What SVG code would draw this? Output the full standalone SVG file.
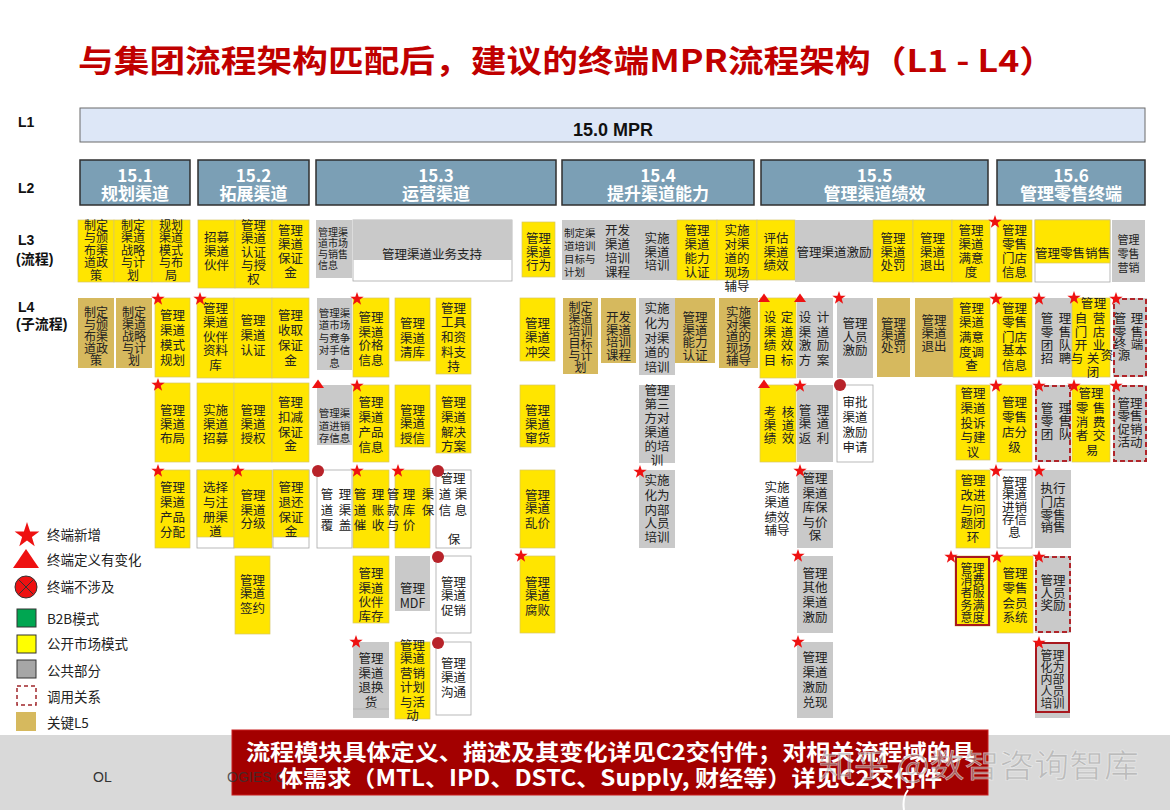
<svg xmlns="http://www.w3.org/2000/svg" xmlns:xlink="http://www.w3.org/1999/xlink" width="1170" height="810" viewBox="0 0 1170 810">
<defs>
<style>
.tx{font-family:"Noto Sans CJK SC","Noto Sans",sans-serif;font-size:12.5px;fill:#222;text-anchor:middle}
.f12{font-size:12px}
.sm{font-size:10.5px}
.st{text-anchor:start}
.y{fill:#ffe500;stroke:#d8c768;stroke-width:0.7}
.g{fill:#c9c9c9}
.t{fill:#d6b95e}
.w{fill:#fff;stroke:#a8a8a8;stroke-width:0.8}
.dr{fill:none;stroke:#b0252a;stroke-width:2;stroke-dasharray:5 3}
.sr{fill:none;stroke:#a8181e;stroke-width:2}
.l2{fill:#7b9fb5;stroke:#2f2f2f;stroke-width:1.5}
.l2t{font-family:"Noto Sans CJK SC",sans-serif;font-weight:bold;fill:#fff;text-anchor:middle;font-size:17px}
.lab{font-family:"Liberation Sans","Noto Sans CJK SC",sans-serif;font-weight:bold;font-size:14px;fill:#111}
.lg{font-family:"Noto Sans CJK SC",sans-serif;font-size:13.5px;fill:#222}
.star{fill:#ee1111}
.tri{fill:#ee1111}
.dot{fill:#b8232a}
</style>
<path id="star" class="star" d="M0,-7 L1.65,-2.27 L6.66,-2.16 L2.66,0.87 L4.11,5.66 L0,2.8 L-4.11,5.66 L-2.66,0.87 L-6.66,-2.16 L-1.65,-2.27 Z"/>
<path id="tri" class="tri" d="M0,-4.5 L6,4 L-6,4 Z"/>
<circle id="dot" class="dot" r="6"/>
</defs>
<rect width="1170" height="810" fill="#fff"/>

<text x="78" y="72" font-family="Noto Sans CJK SC, sans-serif" font-size="31" font-weight="bold" fill="#c00000" textLength="977" lengthAdjust="spacingAndGlyphs">与集团流程架构匹配后，建议的终端MPR流程架构（L1 - L4）</text>

<g id="row-labels">
<text class="lab" x="18" y="127">L1</text>
<text class="lab" x="18" y="193">L2</text>
<text class="lab" x="18" y="245">L3</text>
<text class="lab" x="16" y="264">(流程)</text>
<text class="lab" x="18" y="312">L4</text>
<text class="lab" x="16" y="329">(子流程)</text>
</g>

<g id="l1">
<rect x="80" y="108" width="1065" height="34" fill="#dde7f7" stroke="#6b6b6b" stroke-width="1"/>
<text x="613" y="136" font-family="Liberation Sans, sans-serif" font-size="18" font-weight="bold" fill="#111" text-anchor="middle">15.0 MPR</text>
</g>

<g id="l2-15-1"><rect class="l2" x="80" y="160" width="110" height="45"/><text class="l2t" x="135" y="182">15.1</text><text class="l2t" x="135" y="200">规划渠道</text></g>
<g id="l2-15-2"><rect class="l2" x="198" y="160" width="111" height="45"/><text class="l2t" x="253.5" y="182">15.2</text><text class="l2t" x="253.5" y="200">拓展渠道</text></g>
<g id="l2-15-3"><rect class="l2" x="316" y="160" width="240" height="45"/><text class="l2t" x="436" y="182">15.3</text><text class="l2t" x="436" y="200">运营渠道</text></g>
<g id="l2-15-4"><rect class="l2" x="562" y="160" width="192" height="45"/><text class="l2t" x="658" y="182">15.4</text><text class="l2t" x="658" y="200">提升渠道能力</text></g>
<g id="l2-15-5"><rect class="l2" x="761" y="160" width="227" height="45"/><text class="l2t" x="874.5" y="182">15.5</text><text class="l2t" x="874.5" y="200">管理渠道绩效</text></g>
<g id="l2-15-6"><rect class="l2" x="997" y="160" width="148" height="45"/><text class="l2t" x="1071" y="182">15.6</text><text class="l2t" x="1071" y="200">管理零售终端</text></g>

<!-- L3 -->
<g id="l3-311"><rect class="y" x="78" y="220" width="36" height="62"/><text class="tx f12"><tspan x="96" y="229.5">制定</tspan><tspan x="96" y="242">与颁</tspan><tspan x="96" y="254.5">布渠</tspan><tspan x="96" y="267">道政</tspan><tspan x="96" y="279.5">策</tspan></text></g>
<g id="l3-312"><rect class="y" x="114" y="220" width="38" height="62"/><text class="tx f12"><tspan x="133" y="229.5">制定</tspan><tspan x="133" y="242">渠道</tspan><tspan x="133" y="254.5">战略</tspan><tspan x="133" y="267">与计</tspan><tspan x="133" y="279.5">划</tspan></text></g>
<g id="l3-313"><rect class="y" x="152" y="220" width="38" height="62"/><text class="tx f12"><tspan x="171" y="229.5">规划</tspan><tspan x="171" y="242">渠道</tspan><tspan x="171" y="254.5">模式</tspan><tspan x="171" y="267">与布</tspan><tspan x="171" y="279.5">局</tspan></text></g>
<g id="l3-321"><rect class="y" x="198" y="220" width="37" height="68"/><text class="tx"><tspan x="216.5" y="241.5">招募</tspan><tspan x="216.5" y="255.5">渠道</tspan><tspan x="216.5" y="269.5">伙伴</tspan></text></g>
<g id="l3-322"><rect class="y" x="235" y="220" width="37" height="68"/><text class="tx"><tspan x="253.5" y="229.5">管理</tspan><tspan x="253.5" y="243">渠道</tspan><tspan x="253.5" y="256.5">认证</tspan><tspan x="253.5" y="270">与授</tspan><tspan x="253.5" y="283.5">权</tspan></text></g>
<g id="l3-323"><rect class="y" x="272" y="220" width="37" height="68"/><text class="tx"><tspan x="290.5" y="234.5">管理</tspan><tspan x="290.5" y="248.5">渠道</tspan><tspan x="290.5" y="262.5">保证</tspan><tspan x="290.5" y="276.5">金</tspan></text></g>
<g id="l3-331"><rect class="g" x="316" y="220" width="36" height="58"/><text class="tx st" style="font-size:10px"><tspan x="318" y="236">管理渠</tspan><tspan x="318" y="247">道市场</tspan><tspan x="318" y="258">与销售</tspan><tspan x="318" y="269">信息</tspan></text></g>
<g id="l3-332"><rect class="w" x="353" y="220" width="159" height="61"/><rect class="g" x="353" y="220" width="159" height="40"/><text class="tx" x="432" y="259">管理渠道业务支持</text></g>
<g id="l3-333"><rect class="y" x="522" y="222" width="33" height="55"/><text class="tx"><tspan x="538.5" y="242.5">管理</tspan><tspan x="538.5" y="256.5">渠道</tspan><tspan x="538.5" y="269.5">行为</tspan></text></g>
<g id="l3-341"><rect class="g" x="562" y="220" width="36" height="60"/><text class="tx st sm"><tspan x="564" y="236.5">制定渠</tspan><tspan x="564" y="249.5">道培训</tspan><tspan x="564" y="262.5">目标与</tspan><tspan x="564" y="276">计划</tspan></text></g>
<g id="l3-342"><rect class="g" x="598" y="220" width="39" height="60"/><text class="tx"><tspan x="617.5" y="234.5">开发</tspan><tspan x="617.5" y="248.5">渠道</tspan><tspan x="617.5" y="262.5">培训</tspan><tspan x="617.5" y="276.5">课程</tspan></text></g>
<g id="l3-343"><rect class="g" x="637" y="220" width="40" height="60"/><text class="tx"><tspan x="657" y="242.5">实施</tspan><tspan x="657" y="256.5">渠道</tspan><tspan x="657" y="269.5">培训</tspan></text></g>
<g id="l3-344"><rect class="y" x="677" y="220" width="40" height="60"/><text class="tx"><tspan x="697" y="234.5">管理</tspan><tspan x="697" y="248.5">渠道</tspan><tspan x="697" y="262.5">能力</tspan><tspan x="697" y="276.5">认证</tspan></text></g>
<g id="l3-345"><rect class="y" x="717" y="220" width="40" height="60"/><text class="tx"><tspan x="737" y="234.5">实施</tspan><tspan x="737" y="248.5">对渠</tspan><tspan x="737" y="262.5">道的</tspan><tspan x="737" y="276.5">现场</tspan><tspan x="737" y="290.5">辅导</tspan></text></g>
<g id="l3-346"><rect class="y" x="757" y="220" width="38" height="60"/><text class="tx"><tspan x="776" y="242.5">评估</tspan><tspan x="776" y="256.5">渠道</tspan><tspan x="776" y="269.5">绩效</tspan></text></g>
<g id="l3-351"><rect class="g" x="795" y="220" width="78" height="62"/><text class="tx" x="834" y="256.5">管理渠道激励</text></g>
<g id="l3-352"><rect class="y" x="873" y="220" width="40" height="62"/><text class="tx"><tspan x="893" y="242.5">管理</tspan><tspan x="893" y="256.5">渠道</tspan><tspan x="893" y="269.5">处罚</tspan></text></g>
<g id="l3-353"><rect class="y" x="913" y="220" width="39" height="62"/><text class="tx"><tspan x="932.5" y="242.5">管理</tspan><tspan x="932.5" y="256.5">渠道</tspan><tspan x="932.5" y="269.5">退出</tspan></text></g>
<g id="l3-354"><rect class="y" x="952" y="220" width="38" height="62"/><text class="tx"><tspan x="971" y="234.5">管理</tspan><tspan x="971" y="248.5">渠道</tspan><tspan x="971" y="262.5">满意</tspan><tspan x="971" y="276.5">度</tspan></text></g>
<g id="l3-361"><rect class="y" x="997" y="220" width="35" height="62"/><text class="tx"><tspan x="1014.5" y="234.5">管理</tspan><tspan x="1014.5" y="248.5">零售</tspan><tspan x="1014.5" y="262.5">门店</tspan><tspan x="1014.5" y="277">信息</tspan></text><use href="#star" x="995" y="222"/></g>
<g id="l3-362"><rect class="w" x="1035" y="220" width="75" height="62"/><rect class="y" x="1035" y="220" width="75" height="43"/><text class="tx" x="1072.5" y="257.5">管理零售销售</text></g>
<g id="l3-363"><rect class="g" x="1112" y="220" width="33" height="62"/><text class="tx" style="font-size:11px"><tspan x="1128.5" y="243.5">管理</tspan><tspan x="1128.5" y="257.5">零售</tspan><tspan x="1128.5" y="271.5">营销</tspan></text></g>

<!-- L4 15.1 / 15.2 -->
<g id="l4-411"><rect class="t" x="78" y="298" width="36" height="70"/><text class="tx f12"><tspan x="96" y="316.5">制定</tspan><tspan x="96" y="328.5">与颁</tspan><tspan x="96" y="340.5">布渠</tspan><tspan x="96" y="352.5">道政</tspan><tspan x="96" y="364.5">策</tspan></text></g>
<g id="l4-412"><rect class="t" x="116" y="298" width="36" height="70"/><text class="tx f12"><tspan x="134" y="316.5">制定</tspan><tspan x="134" y="328.5">渠道</tspan><tspan x="134" y="340.5">战略</tspan><tspan x="134" y="352.5">与计</tspan><tspan x="134" y="364.5">划</tspan></text></g>
<g id="l4-413"><rect class="y" x="155" y="298" width="35" height="79"/><text class="tx"><tspan x="172.5" y="319.5">管理</tspan><tspan x="172.5" y="334.5">渠道</tspan><tspan x="172.5" y="349.5">模式</tspan><tspan x="172.5" y="364.5">规划</tspan></text><use href="#star" x="158" y="299"/></g>
<g id="l4-414"><rect class="y" x="197" y="298" width="37" height="80"/><text class="tx"><tspan x="215.5" y="312.5">管理</tspan><tspan x="215.5" y="326.5">渠道</tspan><tspan x="215.5" y="341.5">伙伴</tspan><tspan x="215.5" y="355">资料</tspan><tspan x="215.5" y="369.5">库</tspan></text><use href="#star" x="200" y="299"/></g>
<g id="l4-415"><rect class="y" x="234" y="298" width="38" height="80"/><text class="tx"><tspan x="253" y="324.5">管理</tspan><tspan x="253" y="340">渠道</tspan><tspan x="253" y="355">认证</tspan></text></g>
<g id="l4-416"><rect class="y" x="272" y="298" width="37" height="80"/><text class="tx"><tspan x="290.5" y="319.5">管理</tspan><tspan x="290.5" y="334.5">收取</tspan><tspan x="290.5" y="349.5">保证</tspan><tspan x="290.5" y="364.5">金</tspan></text></g>
<g id="l4-417"><rect class="y" x="155" y="383" width="35" height="79"/><text class="tx"><tspan x="172.5" y="414.5">管理</tspan><tspan x="172.5" y="428.5">渠道</tspan><tspan x="172.5" y="442.5">布局</tspan></text><use href="#star" x="158" y="385"/></g>
<g id="l4-418"><rect class="y" x="197" y="383" width="37" height="79"/><text class="tx"><tspan x="215.5" y="414.5">实施</tspan><tspan x="215.5" y="428.5">渠道</tspan><tspan x="215.5" y="442.5">招募</tspan></text></g>
<g id="l4-419"><rect class="y" x="234" y="383" width="38" height="79"/><text class="tx"><tspan x="253" y="414.5">管理</tspan><tspan x="253" y="428.5">渠道</tspan><tspan x="253" y="442.5">授权</tspan></text></g>
<g id="l4-420"><rect class="y" x="272" y="383" width="37" height="79"/><text class="tx"><tspan x="290.5" y="406.5">管理</tspan><tspan x="290.5" y="421.5">扣减</tspan><tspan x="290.5" y="436.5">保证</tspan><tspan x="290.5" y="449.5">金</tspan></text></g>
<g id="l4-421"><rect class="y" x="155" y="470" width="35" height="78"/><text class="tx"><tspan x="172.5" y="491.5">管理</tspan><tspan x="172.5" y="506.5">渠道</tspan><tspan x="172.5" y="521.5">产品</tspan><tspan x="172.5" y="536.5">分配</tspan></text><use href="#star" x="158" y="471"/></g>
<g id="l4-422"><rect class="w" x="197" y="470" width="37" height="78"/><rect class="y" x="197" y="470" width="37" height="67"/><text class="tx"><tspan x="215.5" y="491.5">选择</tspan><tspan x="215.5" y="506.5">与注</tspan><tspan x="215.5" y="521.5">册渠</tspan><tspan x="215.5" y="536">道</tspan></text></g>
<g id="l4-423"><rect class="y" x="234" y="470" width="38" height="78"/><text class="tx"><tspan x="253" y="499.5">管理</tspan><tspan x="253" y="514.5">渠道</tspan><tspan x="253" y="527.5">分级</tspan></text><use href="#star" x="238" y="471"/></g>
<g id="l4-424"><rect class="w" x="273" y="470" width="36" height="78"/><rect class="y" x="273" y="470" width="36" height="67"/><text class="tx"><tspan x="291" y="491.5">管理</tspan><tspan x="291" y="506.5">退还</tspan><tspan x="291" y="521.5">保证</tspan><tspan x="291" y="536">金</tspan></text></g>
<g id="l4-425"><rect class="y" x="235" y="556" width="35" height="78"/><text class="tx"><tspan x="252.5" y="584.5">管理</tspan><tspan x="252.5" y="598">渠道</tspan><tspan x="252.5" y="613">签约</tspan></text></g>

<!-- L4 15.3 -->
<g id="l4-431"><rect class="g" x="317" y="298" width="35" height="72"/><text class="tx sm"><tspan x="334.5" y="316.5">管理渠</tspan><tspan x="334.5" y="329">道市场</tspan><tspan x="334.5" y="341.5">与竞争</tspan><tspan x="334.5" y="354">对手信</tspan><tspan x="334.5" y="366.5">息</tspan></text></g>
<g id="l4-432"><rect class="y" x="353" y="298" width="36" height="79"/><text class="tx"><tspan x="371" y="321.5">管理</tspan><tspan x="371" y="336.5">渠道</tspan><tspan x="371" y="349.5">价格</tspan><tspan x="371" y="364.5">信息</tspan></text><use href="#star" x="357" y="299"/></g>
<g id="l4-433"><rect class="y" x="395" y="298" width="35" height="63"/><text class="tx"><tspan x="412.5" y="327.5">管理</tspan><tspan x="412.5" y="342.5">渠道</tspan><tspan x="412.5" y="357">清库</tspan></text></g>
<g id="l4-434"><rect class="y" x="436" y="298" width="35" height="76"/><text class="tx"><tspan x="453.5" y="312.5">管理</tspan><tspan x="453.5" y="326.5">工具</tspan><tspan x="453.5" y="341.5">和资</tspan><tspan x="453.5" y="356.5">料支</tspan><tspan x="453.5" y="371">持</tspan></text></g>
<g id="l4-435"><rect class="g" x="317" y="385" width="35" height="60"/><text class="tx sm"><tspan x="334.5" y="417">管理渠</tspan><tspan x="334.5" y="429.5">道进销</tspan><tspan x="334.5" y="442">存信息</tspan></text><use href="#tri" x="318" y="384"/></g>
<g id="l4-436"><rect class="y" x="353" y="385" width="36" height="77"/><text class="tx"><tspan x="371" y="406.5">管理</tspan><tspan x="371" y="421.5">渠道</tspan><tspan x="371" y="436.5">产品</tspan><tspan x="371" y="451.5">信息</tspan></text><use href="#star" x="357" y="386"/></g>
<g id="l4-437"><rect class="y" x="395" y="385" width="35" height="62"/><text class="tx"><tspan x="412.5" y="414.5">管理</tspan><tspan x="412.5" y="428">渠道</tspan><tspan x="412.5" y="442.5">授信</tspan></text></g>
<g id="l4-438"><rect class="y" x="436" y="385" width="35" height="68"/><text class="tx"><tspan x="453.5" y="406.5">管理</tspan><tspan x="453.5" y="421.5">渠道</tspan><tspan x="453.5" y="436.5">解决</tspan><tspan x="453.5" y="451">方案</tspan></text></g>
<g id="l4-439"><rect class="w" x="317" y="470" width="35" height="78"/><text class="tx" x="327 345" y="498.5">管理</text><text class="tx" x="327 345" y="514.5">道渠</text><text class="tx" x="327 345" y="529.5">覆盖</text><use href="#dot" x="318" y="471"/></g>
<g id="l4-440"><rect class="y" x="353" y="470" width="36" height="78"/><text class="tx" x="360 378" y="498.5">管理</text><text class="tx" x="360 378" y="514.5">道账</text><text class="tx" x="360 378" y="529.5">催收</text><use href="#star" x="357" y="471"/></g>
<g id="l4-441"><rect class="y" x="395" y="470" width="35" height="78"/><text class="tx" x="393 409 428" y="498.5">管理渠</text><text class="tx" x="393 409 428" y="514.5">款库保</text><text class="tx" x="393 409" y="529.5">与价</text><use href="#star" x="398" y="471"/></g>
<g id="l4-442"><rect class="w" x="436" y="470" width="35" height="78"/><text class="tx" x="453" y="482.5">管理</text><text class="tx" x="445 461" y="498.5">道渠</text><text class="tx" x="445 461" y="514.5">信息</text><text class="tx" x="454" y="544">保</text><use href="#dot" x="438" y="471"/></g>
<g id="l4-443"><rect class="y" x="353" y="556" width="36" height="67"/><text class="tx"><tspan x="371" y="577.5">管理</tspan><tspan x="371" y="592.5">渠道</tspan><tspan x="371" y="606.5">伙伴</tspan><tspan x="371" y="621">库存</tspan></text></g>
<g id="l4-444"><rect class="g" x="395" y="556" width="35" height="55"/><text class="tx"><tspan x="412.5" y="592.5">管理</tspan><tspan x="412.5" y="607.5">MDF</tspan></text></g>
<g id="l4-445"><rect class="w" x="436" y="556" width="35" height="77"/><text class="tx"><tspan x="453.5" y="586.5">管理</tspan><tspan x="453.5" y="599.5">渠道</tspan><tspan x="453.5" y="614.5">促销</tspan></text><use href="#dot" x="438" y="557"/></g>
<g id="l4-446"><rect class="g" x="353" y="642" width="36" height="76"/><line x1="353" y1="709" x2="389" y2="709" stroke="#b5b5b5" stroke-width="1"/><text class="tx"><tspan x="371" y="662.5">管理</tspan><tspan x="371" y="677.5">渠道</tspan><tspan x="371" y="691.5">退换</tspan><tspan x="371" y="707">货</tspan></text><use href="#star" x="356" y="642"/></g>
<g id="l4-447"><rect class="y" x="395" y="642" width="35" height="77"/><text class="tx"><tspan x="412.5" y="649.5">管理</tspan><tspan x="412.5" y="662.5">渠道</tspan><tspan x="412.5" y="677.5">营销</tspan><tspan x="412.5" y="691.5">计划</tspan><tspan x="412.5" y="706.5">与活</tspan><tspan x="412.5" y="719.5">动</tspan></text></g>
<g id="l4-448"><rect class="w" x="436" y="642" width="35" height="73"/><text class="tx"><tspan x="453.5" y="667.5">管理</tspan><tspan x="453.5" y="681.5">渠道</tspan><tspan x="453.5" y="696.5">沟通</tspan></text><use href="#dot" x="438" y="643"/></g>
<g id="l4-451"><rect class="y" x="520" y="298" width="35" height="63"/><text class="tx"><tspan x="537.5" y="327.5">管理</tspan><tspan x="537.5" y="341.5">渠道</tspan><tspan x="537.5" y="356.5">冲突</tspan></text></g>
<g id="l4-452"><rect class="y" x="520" y="385" width="35" height="62"/><text class="tx"><tspan x="537.5" y="414.5">管理</tspan><tspan x="537.5" y="429">渠道</tspan><tspan x="537.5" y="442.5">窜货</tspan></text></g>
<g id="l4-453"><rect class="y" x="520" y="470" width="35" height="78"/><text class="tx"><tspan x="537.5" y="499.5">管理</tspan><tspan x="537.5" y="512.5">渠道</tspan><tspan x="537.5" y="527.5">乱价</tspan></text></g>
<g id="l4-454"><rect class="y" x="520" y="556" width="35" height="77"/><text class="tx"><tspan x="537.5" y="586.5">管理</tspan><tspan x="537.5" y="599.5">渠道</tspan><tspan x="537.5" y="614.5">腐败</tspan></text><use href="#star" x="521" y="556"/></g>

<!-- L4 15.4 -->
<g id="l4-461"><rect class="t" x="563" y="298" width="35" height="76"/><text class="tx f12"><tspan x="580.5" y="311.5">制定</tspan><tspan x="580.5" y="323.5">渠道</tspan><tspan x="580.5" y="335.5">培训</tspan><tspan x="580.5" y="347.5">目标</tspan><tspan x="580.5" y="359.5">与计</tspan><tspan x="580.5" y="371.5">划</tspan></text></g>
<g id="l4-462"><rect class="t" x="601" y="298" width="35" height="65"/><text class="tx"><tspan x="618.5" y="322">开发</tspan><tspan x="618.5" y="334.5">渠道</tspan><tspan x="618.5" y="347">培训</tspan><tspan x="618.5" y="359.5">课程</tspan></text></g>
<g id="l4-463"><rect class="g" x="639" y="298" width="36" height="77"/><text class="tx"><tspan x="657" y="312.5">实施</tspan><tspan x="657" y="327.5">化为</tspan><tspan x="657" y="342.5">对渠</tspan><tspan x="657" y="356.5">道的</tspan><tspan x="657" y="371.5">培训</tspan></text></g>
<g id="l4-464"><rect class="t" x="675" y="298" width="40" height="65"/><text class="tx"><tspan x="695" y="322">管理</tspan><tspan x="695" y="334.5">渠道</tspan><tspan x="695" y="347">能力</tspan><tspan x="695" y="359.5">认证</tspan></text></g>
<g id="l4-465"><rect class="t" x="719" y="298" width="39" height="70"/><text class="tx"><tspan x="738.5" y="316.5">实施</tspan><tspan x="738.5" y="328.5">对渠</tspan><tspan x="738.5" y="340.5">道的</tspan><tspan x="738.5" y="352.5">现场</tspan><tspan x="738.5" y="364.5">辅导</tspan></text></g>
<g id="l4-466"><rect class="y" x="760" y="298" width="36" height="80"/><text class="tx" x="770 787" y="321.5">设定</text><text class="tx" x="770 787" y="336.5">渠道</text><text class="tx" x="770 787" y="349.5">绩效</text><text class="tx" x="770 787" y="364.5">目标</text><use href="#tri" x="764" y="298"/></g>
<g id="l4-467"><rect class="g" x="797" y="298" width="36" height="80"/><text class="tx" x="805 823" y="321.5">设计</text><text class="tx" x="805 823" y="336.5">渠道</text><text class="tx" x="805 823" y="349.5">激励</text><text class="tx" x="805 823" y="364.5">方案</text><use href="#tri" x="800" y="298"/></g>
<g id="l4-468"><rect class="g" x="837" y="298" width="36" height="80"/><text class="tx"><tspan x="855" y="327.5">管理</tspan><tspan x="855" y="341.5">人员</tspan><tspan x="855" y="354.5">激励</tspan></text><use href="#star" x="839" y="298"/></g>
<g id="l4-469"><rect class="g" x="639" y="385" width="36" height="78"/><text class="tx"><tspan x="657" y="394.5">管理</tspan><tspan x="657" y="408.5">第三</tspan><tspan x="657" y="422.5">方对</tspan><tspan x="657" y="436.5">渠道</tspan><tspan x="657" y="450.5">的培</tspan><tspan x="657" y="464.5">训</tspan></text></g>
<g id="l4-470"><rect class="y" x="760" y="385" width="36" height="77"/><text class="tx" x="770 788" y="416.5">考核</text><text class="tx" x="770 788" y="429.5">渠道</text><text class="tx" x="770 788" y="442.5">绩效</text><use href="#tri" x="764" y="384"/></g>
<g id="l4-471"><rect class="g" x="797" y="385" width="36" height="77"/><text class="tx" x="805 823" y="414.5">管理</text><text class="tx" x="805 823" y="427.5">渠道</text><text class="tx" x="805 823" y="442.5">返利</text><use href="#star" x="800" y="386"/></g>
<g id="l4-472"><rect class="w" x="837" y="385" width="36" height="77"/><text class="tx"><tspan x="855" y="406.5">审批</tspan><tspan x="855" y="421.5">渠道</tspan><tspan x="855" y="436.5">激励</tspan><tspan x="855" y="451.5">申请</tspan></text><use href="#dot" x="840" y="385"/></g>
<g id="l4-473"><rect class="g" x="639" y="470" width="36" height="78"/><text class="tx"><tspan x="657" y="484.5">实施</tspan><tspan x="657" y="499.5">化为</tspan><tspan x="657" y="514.5">内部</tspan><tspan x="657" y="527.5">人员</tspan><tspan x="657" y="541.5">培训</tspan></text><use href="#star" x="640" y="472"/></g>
<g id="l4-474"><text class="tx"><tspan x="777" y="491.5">实施</tspan><tspan x="777" y="506.5">渠道</tspan><tspan x="777" y="521.5">绩效</tspan><tspan x="777" y="534.5">辅导</tspan></text></g>
<g id="l4-475"><rect class="g" x="797" y="470" width="36" height="78"/><text class="tx"><tspan x="815" y="482.5">管理</tspan><tspan x="815" y="497.5">渠道</tspan><tspan x="815" y="511.5">库保</tspan><tspan x="815" y="526.5">与价</tspan><tspan x="815" y="539.5">保</tspan></text><use href="#star" x="800" y="471"/></g>
<g id="l4-476"><rect class="g" x="797" y="556" width="36" height="77"/><text class="tx"><tspan x="815" y="577.5">管理</tspan><tspan x="815" y="591.5">其他</tspan><tspan x="815" y="606.5">渠道</tspan><tspan x="815" y="621.5">激励</tspan></text><use href="#star" x="798" y="556"/></g>
<g id="l4-477"><rect class="g" x="797" y="642" width="36" height="76"/><text class="tx"><tspan x="815" y="661.5">管理</tspan><tspan x="815" y="676.5">渠道</tspan><tspan x="815" y="691.5">激励</tspan><tspan x="815" y="706.5">兑现</tspan></text><use href="#star" x="798" y="642"/></g>

<!-- L4 15.5 -->
<g id="l4-481"><rect class="t" x="877" y="298" width="33" height="79"/><text class="tx"><tspan x="893.5" y="327.5">管理</tspan><tspan x="893.5" y="339.5">渠道</tspan><tspan x="893.5" y="351.5">处罚</tspan></text></g>
<g id="l4-482"><rect class="t" x="915" y="298" width="38" height="79"/><text class="tx"><tspan x="934" y="325">管理</tspan><tspan x="934" y="338">渠道</tspan><tspan x="934" y="351">退出</tspan></text></g>
<g id="l4-483"><rect class="y" x="953" y="298" width="37" height="79"/><text class="tx"><tspan x="971.5" y="312.5">管理</tspan><tspan x="971.5" y="326.5">渠道</tspan><tspan x="971.5" y="341.5">满意</tspan><tspan x="971.5" y="356.5">度调</tspan><tspan x="971.5" y="369.5">查</tspan></text></g>
<g id="l4-484"><rect class="y" x="956" y="385" width="34" height="75"/><text class="tx"><tspan x="973" y="397.5">管理</tspan><tspan x="973" y="412.5">渠道</tspan><tspan x="973" y="427.5">投诉</tspan><tspan x="973" y="441.5">与建</tspan><tspan x="973" y="456.5">议</tspan></text></g>
<g id="l4-485"><rect class="y" x="956" y="470" width="34" height="78"/><text class="tx"><tspan x="973" y="484.5">管理</tspan><tspan x="973" y="499.5">改进</tspan><tspan x="973" y="514.5">与问</tspan><tspan x="973" y="527.5">题闭</tspan><tspan x="973" y="541.5">环</tspan></text></g>
<g id="l4-486"><rect class="y" x="955" y="556" width="35" height="70"/><rect class="sr" x="956" y="557" width="33" height="68"/><text class="tx f12"><tspan x="972.5" y="572.5">管理</tspan><tspan x="972.5" y="584.5">消费</tspan><tspan x="972.5" y="597">者服</tspan><tspan x="972.5" y="609.5">务满</tspan><tspan x="972.5" y="621.5">意度</tspan></text><use href="#star" x="951" y="557"/></g>

<!-- L4 15.6 -->
<g id="l4-491"><rect class="y" x="997" y="298" width="35" height="79"/><text class="tx"><tspan x="1014.5" y="312.5">管理</tspan><tspan x="1014.5" y="326.5">零售</tspan><tspan x="1014.5" y="341.5">门店</tspan><tspan x="1014.5" y="354.5">基本</tspan><tspan x="1014.5" y="369.5">信息</tspan></text><use href="#star" x="996" y="299"/></g>
<g id="l4-492"><rect class="g" x="1035" y="298" width="37" height="79"/><text class="tx" x="1047 1065" y="322.5">管理</text><text class="tx" x="1047 1065" y="336.5">零售</text><text class="tx" x="1047 1065" y="349.5">团队</text><text class="tx" x="1047 1065" y="362.5">招聘</text><use href="#star" x="1039" y="299"/></g>
<g id="l4-493"><rect class="y" x="1072" y="298" width="38" height="79"/><text class="tx" x="1087 1100" y="307.5">管理</text><text class="tx" x="1081 1099" y="322.5">自营</text><text class="tx" x="1081 1099" y="336.5">门店</text><text class="tx" x="1081 1099" y="349.5">开业</text><text class="tx" x="1077 1093" y="362.5">与关</text><text class="tx" x="1093" y="376.5">闭</text><use href="#star" x="1074" y="298"/></g>
<g id="l4-494"><rect class="g" x="1113" y="298" width="34" height="79"/><rect class="dr" x="1114" y="299" width="32" height="77"/><text class="tx" x="1120 1137" y="322.5">管理</text><text class="tx" x="1120 1137" y="336.5">零售</text><text class="tx" x="1120 1137" y="348.5">终端</text><text class="tx" x="1107 1124" y="359.5">资源</text><use href="#star" x="1116" y="299"/></g>
<g id="l4-495"><rect class="y" x="997" y="385" width="35" height="77"/><text class="tx"><tspan x="1014.5" y="406.5">管理</tspan><tspan x="1014.5" y="421.5">零售</tspan><tspan x="1014.5" y="436.5">店分</tspan><tspan x="1014.5" y="451.5">级</tspan></text><use href="#star" x="996" y="386"/></g>
<g id="l4-496"><rect class="g" x="1035" y="385" width="36" height="77"/><rect class="dr" x="1036" y="386" width="34" height="75"/><text class="tx" x="1047 1065" y="412.5">管理</text><text class="tx" x="1047 1065" y="425.5">零售</text><text class="tx" x="1047 1065" y="438.5">团队</text><use href="#star" x="1039" y="386"/></g>
<g id="l4-497"><rect class="y" x="1072" y="385" width="38" height="77"/><text class="tx" x="1091" y="397.5">管理</text><text class="tx" x="1082 1099" y="412.5">零售</text><text class="tx" x="1082 1099" y="426.5">消费</text><text class="tx" x="1082 1099" y="439.5">者交</text><text class="tx" x="1092" y="454.5">易</text><use href="#star" x="1074" y="386"/></g>
<g id="l4-498"><rect class="g" x="1113" y="385" width="34" height="77"/><rect class="dr" x="1114" y="386" width="32" height="75"/><text class="tx"><tspan x="1130" y="407.5">管理</tspan><tspan x="1130" y="420.5">零售</tspan><tspan x="1130" y="433.5">促销</tspan><tspan x="1130" y="446.5">活动</tspan></text><use href="#star" x="1116" y="386"/></g>
<g id="l4-499"><rect class="w" x="997" y="470" width="35" height="78"/><text class="tx"><tspan x="1014.5" y="486.5">管理</tspan><tspan x="1014.5" y="499">渠道</tspan><tspan x="1014.5" y="511.5">进销</tspan><tspan x="1014.5" y="524">存信</tspan><tspan x="1014.5" y="536.5">息</tspan></text><use href="#star" x="996" y="471"/></g>
<g id="l4-500"><rect class="g" x="1035" y="470" width="36" height="78"/><text class="tx"><tspan x="1053" y="492.5">执行</tspan><tspan x="1053" y="506.5">门店</tspan><tspan x="1053" y="519.5">零售</tspan><tspan x="1053" y="531.5">销售</tspan></text><use href="#star" x="1039" y="471"/></g>
<g id="l4-501"><rect class="y" x="997" y="556" width="36" height="77"/><text class="tx"><tspan x="1015" y="577.5">管理</tspan><tspan x="1015" y="592.5">零售</tspan><tspan x="1015" y="607.5">会员</tspan><tspan x="1015" y="621.5">系统</tspan></text><use href="#star" x="997" y="557"/></g>
<g id="l4-502"><rect class="g" x="1035" y="556" width="36" height="77"/><rect class="dr" x="1036" y="557" width="34" height="75"/><text class="tx"><tspan x="1053" y="584.5">管理</tspan><tspan x="1053" y="597.5">人员</tspan><tspan x="1053" y="609.5">奖励</tspan></text><use href="#star" x="1039" y="557"/></g>
<g id="l4-503"><rect class="g" x="1035" y="642" width="35" height="76"/><rect class="sr" x="1036" y="643" width="33" height="69"/><text class="tx f12"><tspan x="1052.5" y="659.5">管理</tspan><tspan x="1052.5" y="671.5">化为</tspan><tspan x="1052.5" y="683.5">内部</tspan><tspan x="1052.5" y="695.5">人员</tspan><tspan x="1052.5" y="707.5">培训</tspan></text><use href="#star" x="1039" y="643"/></g>

<g id="connectors"></g>

<g id="legend">
<path d="M27,522 L30.1,531.4 L39.4,531.4 L31.9,537 L34.7,546.3 L27,540.5 L19.3,546.3 L22.1,537 L14.6,531.4 L23.9,531.4 Z" fill="#ee1111"/>
<text class="lg" x="47" y="540">终端新增</text>
<path d="M26,549 L39,568 L13,568 Z" fill="#ee1111"/>
<text class="lg" x="47" y="565">终端定义有变化</text>
<circle cx="26" cy="587" r="11" fill="#ee1111" stroke="#333" stroke-width="1"/>
<path d="M18.5,579.5 L33.5,594.5 M33.5,579.5 L18.5,594.5" stroke="#333" stroke-width="1"/>
<text class="lg" x="47" y="592">终端不涉及</text>
<rect x="17" y="609" width="19" height="18" fill="#00a651" stroke="#333" stroke-width="1"/>
<text class="lg" x="47" y="624">B2B模式</text>
<rect x="17" y="635" width="19" height="18" fill="#ffff00" stroke="#333" stroke-width="1"/>
<text class="lg" x="47" y="649">公开市场模式</text>
<rect x="17" y="660" width="19" height="18" fill="#a6a6a6" stroke="#333" stroke-width="1"/>
<text class="lg" x="47" y="676">公共部分</text>
<rect x="17" y="686" width="19" height="19" fill="none" stroke="#a0262b" stroke-width="1.5" stroke-dasharray="4 3"/>
<text class="lg" x="47" y="702">调用关系</text>
<rect x="16" y="712" width="20" height="19" fill="#d6b95e"/>
<text class="lg" x="47" y="728">关键L5</text>
</g>

<g id="footer">
<rect x="0" y="735" width="1170" height="75" fill="#d9d9d9"/>
<text x="93" y="782" font-family="Liberation Sans, sans-serif" font-size="14" fill="#333">OL</text>
<rect x="232" y="730" width="756" height="65" fill="#a30000" stroke="#c81e1e" stroke-width="1"/>
<text x="227" y="782" font-family="Liberation Sans, sans-serif" font-size="14" fill="#333" fill-opacity="0.8">OGIES C</text>
<text x="610.5" y="760" font-family="Noto Sans CJK SC, sans-serif" font-size="22" font-weight="bold" fill="#fff" text-anchor="middle" textLength="729" lengthAdjust="spacingAndGlyphs">流程模块具体定义、描述及其变化详见C2交付件；对相关流程域的具</text>
<text x="610.5" y="786" font-family="Noto Sans CJK SC, sans-serif" font-size="22" font-weight="bold" fill="#fff" text-anchor="middle" textLength="663" lengthAdjust="spacingAndGlyphs">体需求（MTL、IPD、DSTC、Supply, 财经等）详见C2交付件</text>
<text x="819" y="777" font-family="Noto Sans CJK SC, sans-serif" font-size="32" fill="#a8a8a8" fill-opacity="0.6" stroke="#ffffff" stroke-opacity="0.6" stroke-width="0.6" textLength="320" lengthAdjust="spacingAndGlyphs">知乎 @数智咨询智库</text>
<path d="M908,790 Q902,798 904,810" fill="none" stroke="#fff" stroke-width="2"/>
</g>
</svg>
